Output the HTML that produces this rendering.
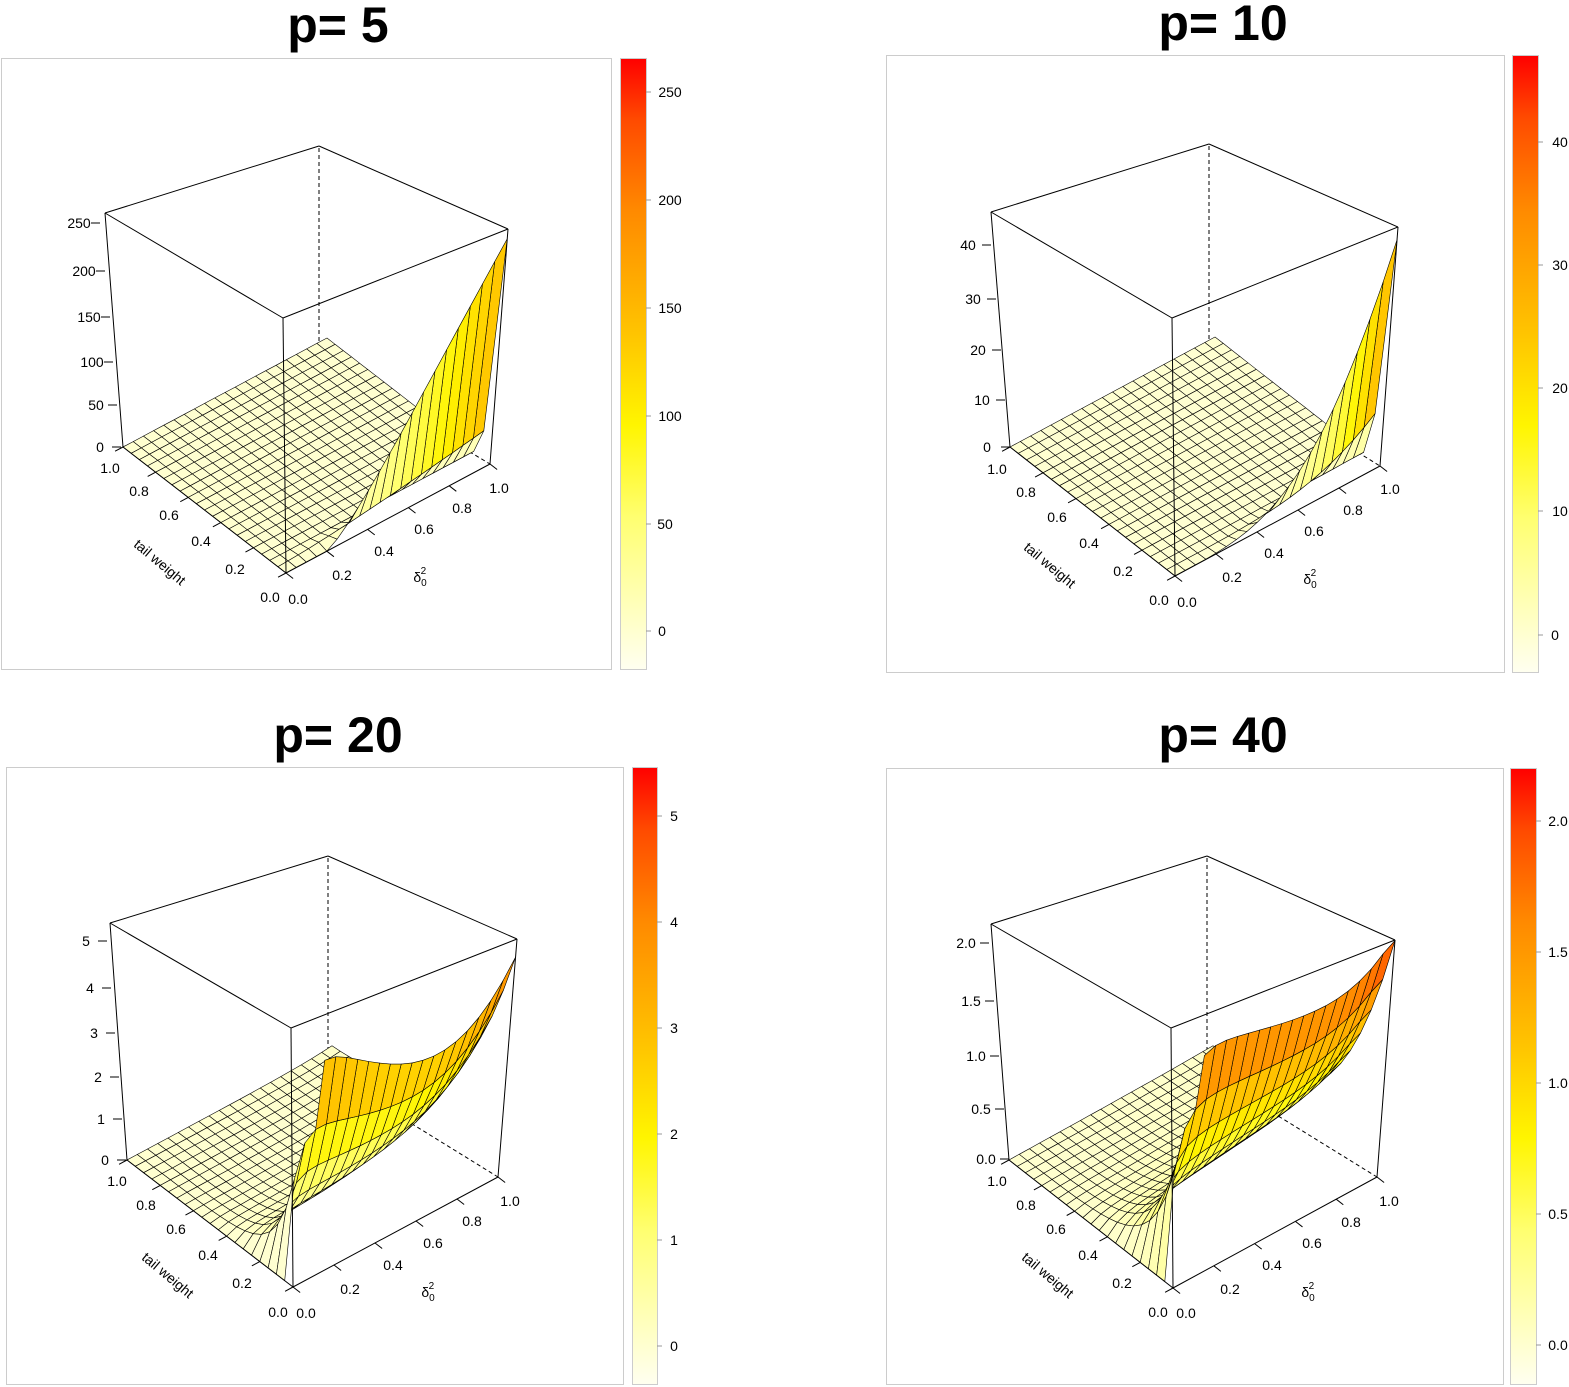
<!DOCTYPE html>
<html><head><meta charset="utf-8"><style>
html,body{margin:0;padding:0;background:#fff}
svg{display:block}
text{font-family:"Liberation Sans",Arial,sans-serif;fill:#000}
.t{font-size:50px;font-weight:bold;text-anchor:middle}
.l{font-size:14px;text-anchor:middle}
</style></head><body>
<svg id="s" width="1569" height="1387" viewBox="0 0 1569 1387" xmlns="http://www.w3.org/2000/svg">
<defs>
<linearGradient id="cg" x1="0" y1="1" x2="0" y2="0">
<stop offset="0" stop-color="#FFFFF0"/><stop offset="0.25" stop-color="#FFFF70"/>
<stop offset="0.4" stop-color="#FFF500"/><stop offset="0.55" stop-color="#FFC400"/>
<stop offset="0.75" stop-color="#FF8A00"/><stop offset="0.9" stop-color="#FF4A00"/>
<stop offset="1" stop-color="#FF0000"/></linearGradient></defs>
<g id="bg"></g>
<text class="t" x="338" y="42">p= 5</text>
<text class="t" x="1223" y="40">p= 10</text>
<text class="t" x="338" y="752">p= 20</text>
<text class="t" x="1223" y="752">p= 40</text>
<g class="l">
<text x="79" y="228">250</text><text x="84" y="276">200</text><text x="89" y="322">150</text><text x="92" y="367">100</text><text x="96" y="410">50</text><text x="100" y="452">0</text>
<text x="110" y="473">1.0</text><text x="139" y="496">0.8</text><text x="169" y="520">0.6</text><text x="201" y="546">0.4</text><text x="235" y="574">0.2</text><text x="270" y="602">0.0</text>
<text x="298" y="604">0.0</text><text x="342" y="580">0.2</text><text x="384" y="556">0.4</text><text x="424" y="534">0.6</text><text x="462" y="513">0.8</text><text x="499" y="493">1.0</text>
<text x="160" y="567" transform="rotate(40 160 562)">tail weight</text>
<text x="420" y="582">δ<tspan font-size="10" dy="4">0</tspan><tspan font-size="10" dx="-6" dy="-12">2</tspan></text>
<text x="670" y="97">250</text><text x="670" y="205">200</text><text x="670" y="313">150</text><text x="670" y="421">100</text><text x="665" y="529">50</text><text x="662" y="636">0</text>

<text x="968" y="250">40</text><text x="973" y="304">30</text><text x="978" y="355">20</text><text x="982" y="405">10</text><text x="987" y="452">0</text>
<text x="997" y="474">1.0</text><text x="1026" y="497">0.8</text><text x="1057" y="522">0.6</text><text x="1089" y="548">0.4</text><text x="1123" y="576">0.2</text><text x="1159" y="605">0.0</text>
<text x="1187" y="607">0.0</text><text x="1232" y="582">0.2</text><text x="1274" y="558">0.4</text><text x="1314" y="536">0.6</text><text x="1353" y="515">0.8</text><text x="1390" y="494">1.0</text>
<text x="1050" y="570" transform="rotate(40 1050 565)">tail weight</text>
<text x="1310" y="584">δ<tspan font-size="10" dy="4">0</tspan><tspan font-size="10" dx="-6" dy="-12">2</tspan></text>
<text x="1560" y="147">40</text><text x="1560" y="270">30</text><text x="1560" y="393">20</text><text x="1560" y="516">10</text><text x="1555" y="640">0</text>

<text x="86" y="946">5</text><text x="90" y="993">4</text><text x="94" y="1038">3</text><text x="98" y="1082">2</text><text x="101" y="1124">1</text><text x="105" y="1165">0</text>
<text x="117" y="1186">1.0</text><text x="146" y="1210">0.8</text><text x="176" y="1234">0.6</text><text x="208" y="1260">0.4</text><text x="242" y="1288">0.2</text><text x="278" y="1317">0.0</text>
<text x="306" y="1318">0.0</text><text x="350" y="1294">0.2</text><text x="393" y="1270">0.4</text><text x="433" y="1248">0.6</text><text x="472" y="1226">0.8</text><text x="510" y="1206">1.0</text>
<text x="168" y="1280" transform="rotate(40 168 1275)">tail weight</text>
<text x="428" y="1297">δ<tspan font-size="10" dy="4">0</tspan><tspan font-size="10" dx="-6" dy="-12">2</tspan></text>
<text x="674" y="821">5</text><text x="674" y="927">4</text><text x="674" y="1033">3</text><text x="674" y="1139">2</text><text x="674" y="1245">1</text><text x="674" y="1351">0</text>

<text x="966" y="948">2.0</text><text x="971" y="1006">1.5</text><text x="976" y="1061">1.0</text><text x="981" y="1114">0.5</text><text x="986" y="1164">0.0</text>
<text x="997" y="1186">1.0</text><text x="1026" y="1210">0.8</text><text x="1056" y="1234">0.6</text><text x="1088" y="1260">0.4</text><text x="1122" y="1288">0.2</text><text x="1158" y="1317">0.0</text>
<text x="1186" y="1318">0.0</text><text x="1230" y="1294">0.2</text><text x="1272" y="1270">0.4</text><text x="1312" y="1248">0.6</text><text x="1351" y="1227">0.8</text><text x="1389" y="1206">1.0</text>
<text x="1048" y="1280" transform="rotate(40 1048 1275)">tail weight</text>
<text x="1308" y="1297">δ<tspan font-size="10" dy="4">0</tspan><tspan font-size="10" dx="-6" dy="-12">2</tspan></text>
<text x="1558" y="826">2.0</text><text x="1558" y="957">1.5</text><text x="1558" y="1088">1.0</text><text x="1558" y="1219">0.5</text><text x="1558" y="1350">0.0</text>
</g>
</svg>
<script>
(function(){
var NS="http://www.w3.org/2000/svg",g=document.getElementById("bg");
function el(n,a){var e=document.createElementNS(NS,n);for(var k in a)e.setAttribute(k,a[k]);g.appendChild(e);return e;}
var st=[[0,[255,255,240]],[0.25,[255,255,112]],[0.4,[255,245,0]],[0.55,[255,196,0]],[0.75,[255,138,0]],[0.9,[255,74,0]],[1,[255,0,0]]];
function col(t){t=Math.max(0,Math.min(1,t));for(var i=1;i<st.length;i++){if(t<=st[i][0]){var a=st[i-1],b=st[i],u=(t-a[0])/(b[0]-a[0]);return "rgb("+[0,1,2].map(function(k){return Math.round(a[1][k]+u*(b[1][k]-a[1][k]))}).join(",")+")";}}return "rgb(255,0,0)";}
function sub(a,b){return[a[0]-b[0],a[1]-b[1]]}
var P=[
{box:[1,58,610,611],cb:[620,58,26,611],cbr:[-17.6,265.7],ticks:[92,200,308,416,524,631],cm:0,
F:[286,573],L:[123,447],R:[490,464],B:[319,362],TF:[283,318],TL:[105,213],TR:[508,229],TB:[319,146],zmax:261,
f:function(i,d){var v=0;if(i==0)v=250*Math.pow(Math.max(0,(d-0.2)/0.8),1.3);else v=30*Math.pow(d,1.5)*Math.exp(-(i-1)*0.05*150);return v;}},
{box:[886,55,618,617],cb:[1512,55,26,617],cbr:[-3,47.1],ticks:[142,265,388,511,635],cm:0,
F:[1175,576],L:[1010,447],R:[1380,466],B:[1209,360],TF:[1172,318],TL:[991,212],TR:[1398,227],TB:[1209,144],zmax:46.5,
f:function(i,d){if(i==0)return 44*Math.pow(d,3.5);return 9*Math.pow(d,4)*Math.exp(-(i-1)*0.05*80);}},
{box:[6,767,617,617],cb:[632,767,25,617],cbr:[-0.36,5.46],ticks:[816,922,1028,1134,1240,1346],cm:2,
F:[293,1287],L:[127,1160],R:[498,1177],B:[328,1072],TF:[291,1028],TL:[110,923],TR:[517,939],TB:[328,856],zmax:5.41,
f:function(i,d){if(i==0&&d<0.149)return NaN;var tw=i*0.05;var f0=Math.min(5.3,5.2-3.5*d+3.3*Math.pow(d,4));var c=0.11+0.15*d*d;return f0*Math.exp(-tw/c)*(1-Math.exp(-d*20));}},
{box:[886,768,617,616],cb:[1510,768,26,616],cbr:[-0.15,2.2],ticks:[821,952,1083,1214,1345],cm:1,
F:[1173,1288],L:[1009,1160],R:[1377,1177],B:[1207,1072],TF:[1171,1028],TL:[991,924],TR:[1395,940],TB:[1207,856],zmax:2.175,
f:function(i,d){if(i==0&&d<0.149)return NaN;var tw=i*0.05;var f0=Math.min(2.17,1.97-0.3*d+0.55*Math.pow(d,6));var c=0.14+0.1*d;return f0*Math.exp(-tw/c)*(1-Math.exp(-d*20));}}
];
P.forEach(function(p){
 var b=p.box;el("rect",{x:b[0]+.5,y:b[1]+.5,width:b[2],height:b[3],fill:"none",stroke:"#ccc","stroke-width":1});
 var c=p.cb;el("rect",{x:c[0]+.5,y:c[1]+.5,width:c[2],height:c[3],fill:"url(#cg)",stroke:"#ccc","stroke-width":1});
 p.ticks.forEach(function(y){el("line",{x1:c[0]+c[2],y1:y,x2:c[0]+c[2]+5,y2:y,stroke:"#999"});});
 var UF=sub(p.TF,p.F),UL=sub(p.TL,p.L),UR=sub(p.TR,p.R),UB=sub(p.TB,p.B);
 function pr(tw,d,z){var s=z/p.zmax,w=[(1-tw)*(1-d),tw*(1-d),(1-tw)*d,tw*d];
  var x=p.F[0]+tw*(p.L[0]-p.F[0])+d*(p.R[0]-p.F[0])+s*(w[0]*UF[0]+w[1]*UL[0]+w[2]*UR[0]+w[3]*UB[0]);
  var y=p.F[1]+tw*(p.L[1]-p.F[1])+d*(p.R[1]-p.F[1])+s*(w[0]*UF[1]+w[1]*UL[1]+w[2]*UR[1]+w[3]*UB[1]);return[x,y];}
 function ln(a,bb,dash){var o={x1:a[0],y1:a[1],x2:bb[0],y2:bb[1],stroke:"#000","stroke-width":1};if(dash)o["stroke-dasharray"]="4,3";el("line",o);}
 ln(p.B,p.TB,1);ln(p.B,p.R,1);ln(p.B,p.L,1);
 ln(p.TL,p.TB);ln(p.TB,p.TR);ln(p.TL,p.TF);ln(p.TF,p.TR);ln(p.L,p.TL);ln(p.R,p.TR);
 var n=20,nd=20,Z=[];
 for(var i=0;i<=n;i++){Z[i]=[];for(var j=0;j<=nd;j++){Z[i][j]=Math.min(p.zmax,p.f(i,j/nd));}}
 var q=[];for(var i=0;i<n;i++)for(var j=0;j<nd;j++)q.push([i,j]);
 q.sort(function(a,bb){return (bb[0]/n+bb[1]/nd)-(a[0]/n+a[1]/nd);});
 q.forEach(function(e){var i=e[0],j=e[1];
  var zs=[Z[i][j],Z[i+1][j],Z[i+1][j+1],Z[i][j+1]];
  if(zs.some(isNaN))return;
  var pts=[[i,j],[i+1,j],[i+1,j+1],[i,j+1]].map(function(k){return pr(k[0]/n,k[1]/nd,Z[k[0]][k[1]]);});
  var zm=(zs[0]+zs[1]+zs[2]+zs[3])/4,mn=Math.min.apply(null,zs);
  if(p.cm==1)zm=(zm+mn)/2;else if(p.cm==2)zm=mn;
  el("polygon",{points:pts.map(function(v){return v[0].toFixed(1)+","+v[1].toFixed(1)}).join(" "),fill:col((zm-p.cbr[0])/(p.cbr[1]-p.cbr[0])),stroke:"#000","stroke-width":0.6,"stroke-linejoin":"round"});});
 ln(p.F,p.TF);ln(p.F,p.L);ln(p.F,p.R);
 function nv(v){var m=Math.hypot(v[0],v[1]);return[v[0]/m*9,v[1]/m*9];}
 var dL=nv(sub(p.F,p.R)),dR=nv(sub(p.F,p.L));
 for(var k=0;k<=5;k++){var a=pr(k/5,0,0);ln(a,[a[0]+dL[0],a[1]+dL[1]]);var bq=pr(0,k/5,0);ln(bq,[bq[0]+dR[0],bq[1]+dR[1]]);}
});
var zt=[[[79,223],[84,271],[89,317],[92,362],[96,405],[100,447]],[[968,245],[973,299],[978,350],[982,400],[987,447]],[[86,941],[90,988],[94,1033],[98,1077],[101,1119],[105,1160]],[[966,943],[971,1001],[976,1056],[981,1109],[986,1159]]];
zt.forEach(function(a){a.forEach(function(p){var x=p[0]+(p[0]>900?14:12);el("line",{x1:x,x2:x+9,y1:p[1],y2:p[1],stroke:"#000"});});});
})();
</script>
</body></html>
